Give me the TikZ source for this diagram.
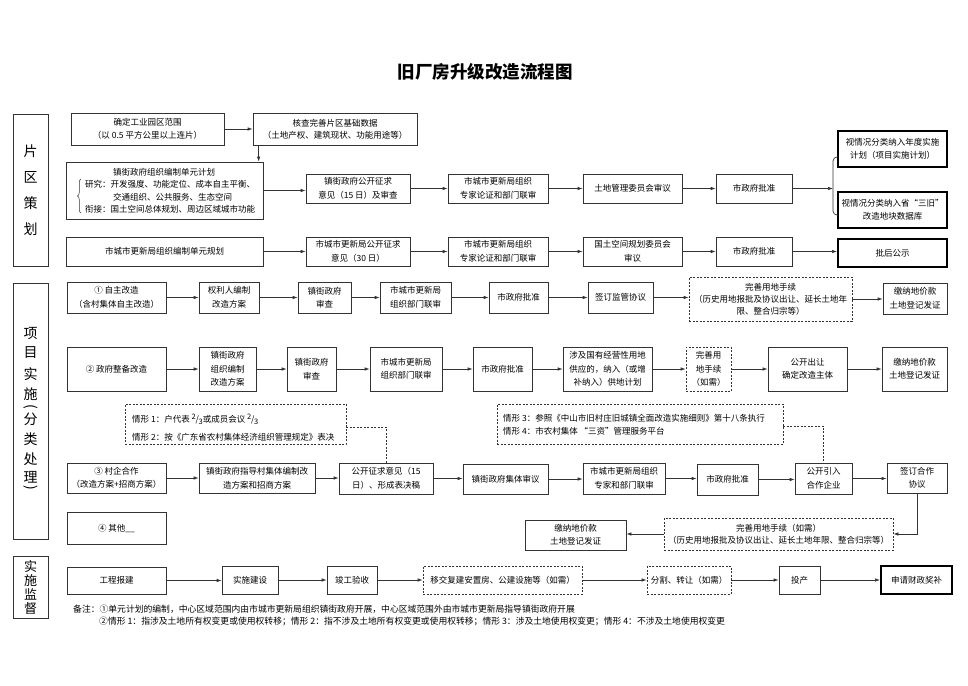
\documentclass[tikz,border=0pt]{standalone}
\usepackage{fontspec}
\usepackage{graphicx}
\setmainfont{Noto Sans CJK SC}
\usetikzlibrary{arrows.meta,decorations.pathreplacing}
\newcommand{\boxfont}{\fontsize{8.5}{13.5}\selectfont}
\newcommand{\notefont}{\fontsize{8.8}{12}\selectfont}
\newcommand{\frc}{\raisebox{3pt}{\fontsize{7.5}{7.5}\selectfont 2}\kern-0.3pt/\kern-0.3pt\raisebox{-2pt}{\fontsize{7.5}{7.5}\selectfont 3}}
\newcommand{\bx}[7][]{\node[box,#1,minimum width={#4pt-#2pt},minimum height={#5pt-#3pt}] (#6) at ({(#2+#4)/2},{(#3+#5)/2}) {#7};}
\begin{document}
\begin{tikzpicture}[x=1pt,y=-1pt,
  box/.style={draw=black!80,line width=0.7pt,inner sep=1pt,align=center,font=\boxfont,text=black},
  thick box/.style={draw=black,line width=2pt},
  dbox/.style={dash pattern=on 2pt off 1.5pt},
  arr/.style={draw=black!80,line width=0.7pt,-{Latex[length=5pt,width=3.5pt]}},
  dline/.style={draw=black!80,line width=0.6pt,dash pattern=on 2pt off 1.5pt},
  plain/.style={draw=black!80,line width=0.7pt},
  txt/.style={font=\boxfont,inner sep=0pt,anchor=west,text=black},
  side/.style={box,line width=0.8pt},
  sch/.style={font=\fontsize{14}{14}\selectfont,inner sep=0pt,text=black}
]
\fill[white] (0,0) rectangle (968,685);
\useasboundingbox (0,0) rectangle (968,685);

% title
\node[font=\fontsize{17.5}{20}\selectfont\bfseries] (title) at (485,72) {旧厂房升级改造流程图};

% side labels
\bx[side,font=\fontsize{14}{26}\selectfont]{13}{114}{48}{266}{sA}{片\\区\\策\\划}
\bx[side]{13}{283}{48}{539}{sB}{}
\node[sch] (sb1) at (30.5,333) {项};
\node[sch] (sb2) at (30.5,353) {目};
\node[sch] (sb3) at (30.5,374) {实};
\node[sch] (sb4) at (30.5,394) {施};
\node[sch] (sb5) at (30.5,408) {\rotatebox[origin=c]{-90}{(}};
\node[sch] (sb6) at (30.5,419) {分};
\node[sch] (sb7) at (30.5,439) {类};
\node[sch] (sb8) at (30.5,459) {处};
\node[sch] (sb9) at (30.5,477) {理};
\node[sch] (sb10) at (30.5,489) {\rotatebox[origin=c]{-90}{)}};
\bx[side,font=\fontsize{13}{14}\selectfont]{13}{556}{48}{618}{sC}{实\\施\\监\\督}

% ===== section 1 =====
\bx{71}{113}{224}{145}{qd}{确定工业园区范围\\（以 0.5 平方公里以上连片）}
\bx[font=\fontsize{8.5}{12}\selectfont]{253}{113}{417}{145}{hc}{核查完善片区基础数据\\（土地产权、建筑现状、功能用途等）}
\bx{66}{162}{263}{219}{jh}{}
\node[font=\boxfont,inner sep=0pt] (jh1) at (164,172) {镇街政府组织编制单元计划};
\node[txt] (jh2) at (85,184) {研究：开发强度、功能定位、成本自主平衡、};
\node[txt] (jh3) at (113,197) {交通组织、公共服务、生态空间};
\node[txt] (jh4) at (85,209) {衔接：国土空间总体规划、周边区域城市功能};
\draw[plain,line width=0.5pt,decorate,decoration={brace,amplitude=3.5pt}] (81,213) -- (81,179);

\bx{306}{174}{410}{203}{zq}{镇街政府公开征求\\意见（15 日）及审查}
\bx{448}{174}{548}{203}{zja}{市城市更新局组织\\专家论证和部门联审}
\bx{583}{174}{682}{203}{td}{土地管理委员会审议}
\bx{716}{174}{792}{203}{pza}{市政府批准}
\bx[thick box]{838}{131}{947}{167}{nd}{视情况分类纳入年度实施\\计划（项目实施计划）}
\bx[thick box]{838}{192}{947}{228}{sj}{视情况分类纳入省“三旧”\\改造地块数据库}
\coordinate (bm) at (833,188);
\draw[plain,rounded corners=4pt] (838,157) -- (833,157) -- (833,215) -- (838,215);

\bx{66}{237}{263}{266}{gh}{市城市更新局组织编制单元规划}
\bx{306}{237}{410}{266}{zqb}{市城市更新局公开征求\\意见（30 日）}
\bx{448}{237}{548}{266}{zjb}{市城市更新局组织\\专家论证和部门联审}
\bx{583}{237}{682}{266}{gt}{国土空间规划委员会\\审议}
\bx{716}{237}{792}{266}{pzb}{市政府批准}
\bx[thick box]{838}{239}{947}{267}{ph}{批后公示}

\draw[arr] (qd.east) -- (qd.east -| hc.west);
\draw[arr] ([xshift=6pt]hc.south west) -- ([xshift=6pt]hc.south west |- jh.north);
\draw[arr] (jh.east) -- (jh.east -| zq.west);
\draw[arr] (zq.east) -- (zq.east -| zja.west);
\draw[arr] (zja.east) -- (zja.east -| td.west);
\draw[arr] (td.east) -- (td.east -| pza.west);
\draw[arr] (pza.east) -- (pza.east -| bm);
\draw[arr] (gh.east) -- (gh.east -| zqb.west);
\draw[arr] (zqb.east) -- (zqb.east -| zjb.west);
\draw[arr] (zjb.east) -- (zjb.east -| gt.west);
\draw[arr] (gt.east) -- (gt.east -| pzb.west);
\draw[arr] (pzb.east) -- (pzb.east -| ph.west);

% ===== section 2 =====
\bx{67}{282}{166}{313}{ra}{① 自主改造\\（含村集体自主改造）}
\bx{199}{282}{259}{313}{rab}{权利人编制\\改造方案}
\bx{298}{282}{351}{313}{rac}{镇街政府\\审查}
\bx{380}{282}{451}{313}{rad}{市城市更新局\\组织部门联审}
\bx{489}{282}{548}{313}{rae}{市政府批准}
\bx{588}{282}{653}{313}{raf}{签订监管协议}
\bx[dbox,font=\fontsize{8.5}{12}\selectfont]{689}{277}{852}{321}{rag}{完善用地手续\\（历史用地报批及协议出让、延长土地年\\限、整合归宗等）}
\bx{883}{283}{947}{314}{rah}{缴纳地价款\\土地登记发证}
\draw[arr] (ra.east) -- (ra.east -| rab.west);
\draw[arr] (rab.east) -- (rab.east -| rac.west);
\draw[arr] (rac.east) -- (rac.east -| rad.west);
\draw[arr] (rad.east) -- (rad.east -| rae.west);
\draw[arr] (rae.east) -- (rae.east -| raf.west);
\draw[arr] (raf.east) -- (raf.east -| rag.west);
\draw[arr] (rag.east) -- (rag.east -| rah.west);

\bx{67}{347}{166}{391}{rb}{② 政府整备改造}
\bx{199}{347}{256}{391}{rbb}{镇街政府\\组织编制\\改造方案}
\bx{287}{347}{336}{391}{rbc}{镇街政府\\审查}
\bx{370}{347}{442}{391}{rbd}{市城市更新局\\组织部门联审}
\bx{473}{347}{532}{391}{rbe}{市政府批准}
\bx{563}{347}{652}{391}{rbf}{涉及国有经营性用地\\供应的，纳入（或增\\补纳入）供地计划}
\bx[dbox]{686}{347}{731}{391}{rbg}{完善用\\地手续\\（如需）}
\bx{768}{347}{847}{391}{rbh}{公开出让\\确定改造主体}
\bx{882}{347}{947}{391}{rbi}{缴纳地价款\\土地登记发证}
\draw[arr] (rb.east) -- (rb.east -| rbb.west);
\draw[arr] (rbb.east) -- (rbb.east -| rbc.west);
\draw[arr] (rbc.east) -- (rbc.east -| rbd.west);
\draw[arr] (rbd.east) -- (rbd.east -| rbe.west);
\draw[arr] (rbe.east) -- (rbe.east -| rbf.west);
\draw[arr] (rbf.east) -- (rbf.east -| rbg.west);
\draw[arr] (rbg.east) -- (rbg.east -| rbh.west);
\draw[arr] (rbh.east) -- (rbh.east -| rbi.west);

% situation boxes
\bx[dbox]{125}{404}{346}{444}{qa}{}
\node[txt] (qa1) at (132,419) {情形 1：户代表 \frc 或成员会议 \frc};
\node[txt] (qa2) at (132,437) {情形 2：按《广东省农村集体经济组织管理规定》表决};
\bx[dbox]{497}{404}{783}{444}{qb}{}
\node[txt] (qb1) at (503,418) {情形 3：参照《中山市旧村庄旧城镇全面改造实施细则》第十八条执行};
\node[txt] (qb2) at (503,431) {情形 4：市农村集体 “三资”管理服务平台};

\bx{67}{463}{166}{493}{rc}{③ 村企合作\\（改造方案+招商方案）}
\bx{199}{463}{315}{493}{rcb}{镇街政府指导村集体编制改\\造方案和招商方案}
\bx{339}{463}{433}{494}{rcc}{公开征求意见（15\\日）、形成表决稿}
\bx{463}{464}{548}{494}{rcd}{镇街政府集体审议}
\bx{583}{463}{665}{494}{rce}{市城市更新局组织\\专家和部门联审}
\bx{697}{464}{758}{495}{rcf}{市政府批准}
\bx{795}{463}{852}{494}{rcg}{公开引入\\合作企业}
\bx{887}{463}{947}{493}{rch}{签订合作\\协议}
\bx[dbox,font=\fontsize{8.5}{12}\selectfont]{664}{518}{893}{550}{rci}{完善用地手续（如需）\\（历史用地报批及协议出让、延长土地年限、整合归宗等）}
\bx{525}{520}{626}{550}{rcj}{缴纳地价款\\土地登记发证}
\bx{67}{512}{166}{544}{rd}{④ 其他\_\_}

\draw[arr] (rc.east) -- (rc.east -| rcb.west);
\draw[arr] (rcb.east) -- (rcb.east -| rcc.west);
\draw[arr] (rcc.east) -- (rcc.east -| rcd.west);
\draw[arr] (rcd.east) -- (rcd.east -| rce.west);
\draw[arr] (rce.east) -- (rce.east -| rcf.west);
\draw[arr] (rcf.east) -- (rcf.east -| rcg.west);
\draw[arr] (rcg.east) -- (rcg.east -| rch.west);
\draw[arr] (rch.south) |- (rci.east);
\draw[arr] (rci.west) -- (rci.west -| rcj.east);
\draw[dline] ([yshift=-3pt]qa.east) -| (rcc.north);
\draw[dline] ([yshift=-2pt]qb.east) -| (rcg.north);

% ===== section 3 =====
\bx{67}{567}{166}{594}{ga}{工程报建}
\bx{222}{566}{278}{594}{gb}{实施建设}
\bx{327}{566}{377}{594}{gc}{竣工验收}
\bx[dbox]{423}{566}{582}{594}{gd}{移交复建安置房、公建设施等（如需）}
\bx[dbox]{647}{566}{731}{594}{ge}{分割、转让（如需）}
\bx{779}{566}{820}{594}{gf}{投产}
\bx[thick box]{881}{566}{952}{594}{gg}{申请财政奖补}
\draw[arr] (ga.east) -- (ga.east -| gb.west);
\draw[arr] (gb.east) -- (gb.east -| gc.west);
\draw[arr] (gc.east) -- (gc.east -| gd.west);
\draw[arr] (gd.east) -- (gd.east -| ge.west);
\draw[arr] (ge.east) -- (ge.east -| gf.west);
\draw[arr] (gf.east) -- (gf.east -| gg.west);

% notes
\node[txt,font=\notefont] (na) at (73,609) {备注：①单元计划的编制，中心区域范围内由市城市更新局组织镇街政府开展，中心区域范围外由市城市更新局指导镇街政府开展};
\node[txt,font=\notefont] (nb) at (99,621) {②情形 1：指涉及土地所有权变更或使用权转移；情形 2：指不涉及土地所有权变更或使用权转移；情形 3：涉及土地使用权变更；情形 4：不涉及土地使用权变更};
\end{tikzpicture}
\end{document}
